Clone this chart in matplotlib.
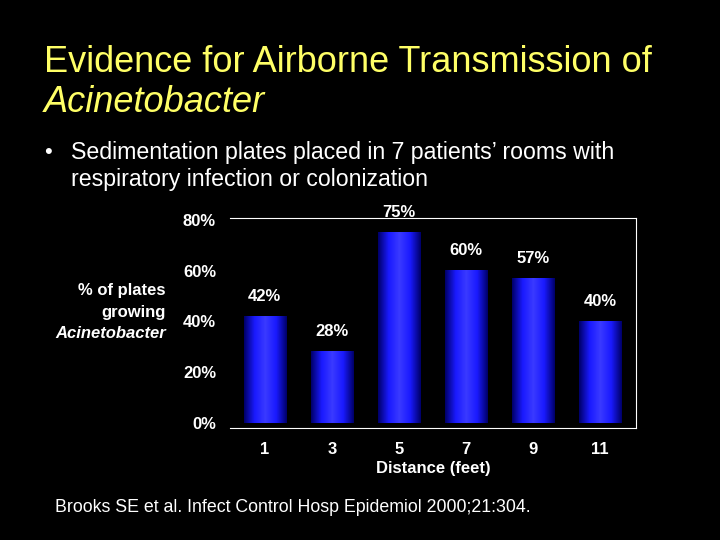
import numpy as np
import matplotlib.pyplot as plt
from matplotlib.colors import LinearSegmentedColormap

distances = ["1", "3", "5", "7", "9", "11"]
percent = [42, 28, 75, 60, 57, 40]
yticks = [0, 20, 40, 60, 80]

plt.rcParams['font.family'] = ['Liberation Sans', 'DejaVu Sans']
fig = plt.figure(figsize=(7.2, 5.4), dpi=100, facecolor='black')

fig.text(44/720, 1-62/540, "Evidence for Airborne Transmission of", color='#ffff66',
         fontsize=26, va='center')
fig.text(44/720, 1-102/540, "Acinetobacter", color='#ffff66', fontsize=26,
         style='italic', va='center')
fig.text(44/720, 1-152/540, "•", color='white', fontsize=16, va='center')
fig.text(71/720, 1-152/540, "Sedimentation plates placed in 7 patients’ rooms with",
         color='white', fontsize=16.7, va='center')
fig.text(71/720, 1-180/540, "respiratory infection or colonization",
         color='white', fontsize=16.7, va='center')
fig.text(55/720, 1-508/540, "Brooks SE et al. Infect Control Hosp Epidemiol 2000;21:304.",
         color='white', fontsize=12.8, va='center')

ax = fig.add_axes([230/720, 1-428/540, 406/720, 210/540], facecolor='black')
x = np.arange(len(distances))
cmap = LinearSegmentedColormap.from_list('b', ['#00006a', '#1a1aff', '#3a3aff', '#1a1aff', '#00006a'])
grad = np.linspace(0, 1, 100).reshape(1, -1)
w = 0.63
for xi, v in zip(x, percent):
    ax.imshow(grad, cmap=cmap, aspect='auto', extent=(xi - w/2, xi + w/2, 0, v), zorder=2)
    ax.text(xi, v + 5, f"{v}%", color='white', fontsize=12, fontweight='bold',
            ha='center', va='bottom')
ax.set_xlim(-0.52, 5.54)
ax.set_ylim(-2, 80.8)
ax.set_xticks(x)
ax.set_xticklabels(distances)
ax.set_yticks(yticks)
ax.set_yticklabels([f"{t}%" for t in yticks])
ax.tick_params(colors='white', labelsize=12, length=0, pad=10)
for lbl in ax.get_xticklabels() + ax.get_yticklabels():
    lbl.set_fontweight('bold')
for s in ax.spines.values():
    s.set_color('white')
    s.set_linewidth(0.8)
ax.spines['left'].set_visible(False)
ax.set_xlabel("Distance (feet)", color='white', fontsize=12, fontweight='bold', labelpad=3)

fig.text(166/720, 1-290/540, "% of plates", color='white', fontsize=12, fontweight='bold', ha='right', va='center')
fig.text(166/720, 1-312/540, "growing", color='white', fontsize=12, fontweight='bold', ha='right', va='center')
fig.text(166/720, 1-333/540, "Acinetobacter", color='white', fontsize=12, fontweight='bold',
         style='italic', ha='right', va='center')

fig.savefig("out.png", dpi=100, facecolor='black')
